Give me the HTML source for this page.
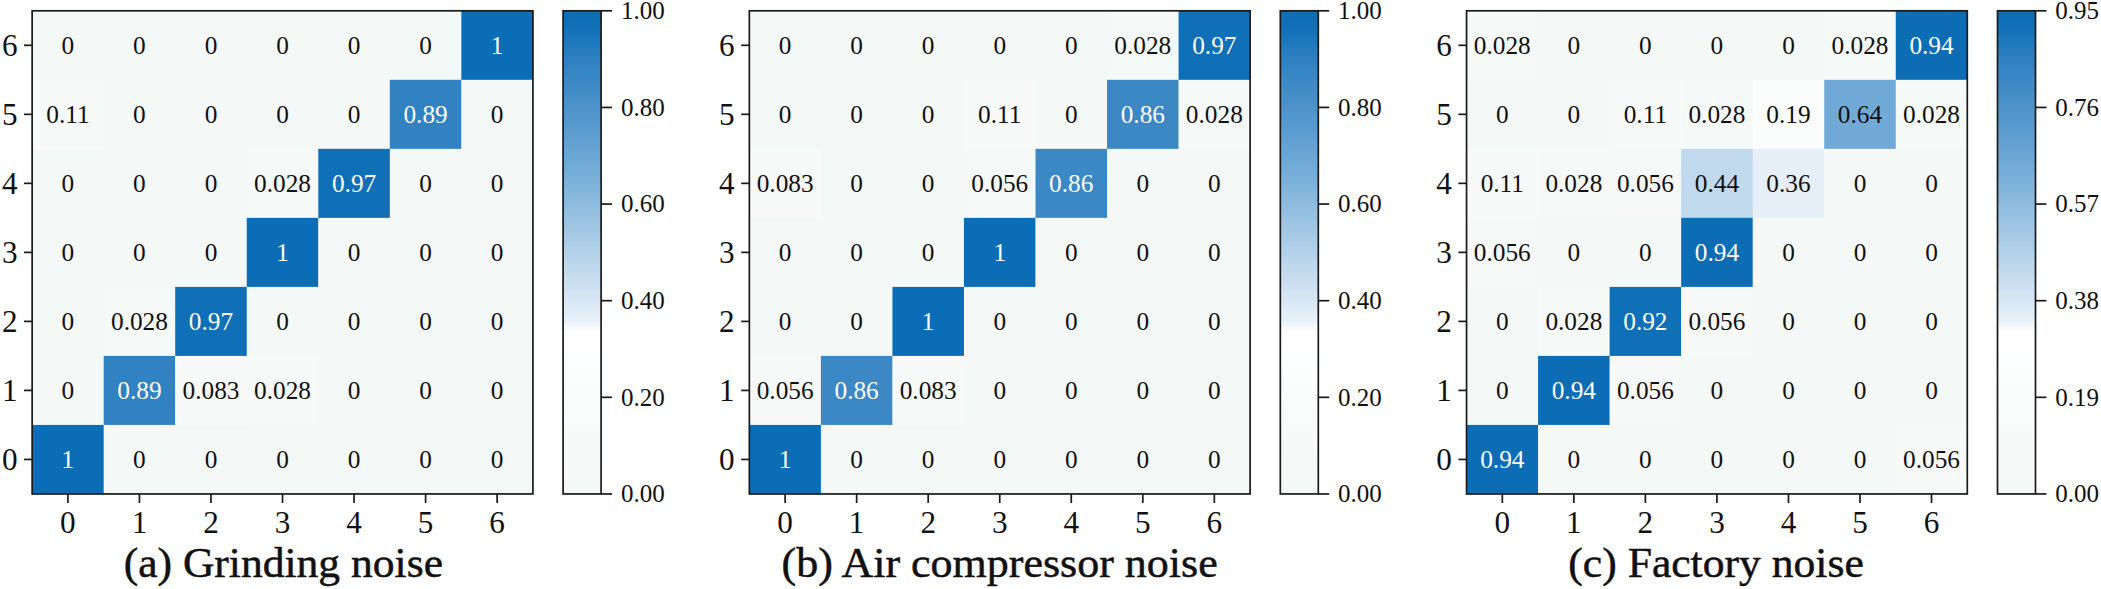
<!DOCTYPE html>
<html><head><meta charset="utf-8"><title>Confusion matrices</title>
<style>html,body{margin:0;padding:0;background:#fff}svg{display:block}text{font-family:"Liberation Serif","Times New Roman",serif;fill:#111}text.w{fill:#fff}text.t{stroke:#111;stroke-width:0.5px}</style></head><body>
<svg width="2101" height="589" viewBox="0 0 2101 589">
<rect width="2101" height="589" fill="#fff"/>
<defs><linearGradient id="cb" x1="0" y1="1" x2="0" y2="0">
<stop offset="0" stop-color="#f4f8f7"/>
<stop offset="0.333" stop-color="#ffffff"/>
<stop offset="0.36" stop-color="#e7f0f8"/>
<stop offset="0.4" stop-color="#d9e7f4"/>
<stop offset="0.674" stop-color="#72abd7"/>
<stop offset="0.89" stop-color="#3282c2"/>
<stop offset="0.97" stop-color="#0f6fb7"/>
<stop offset="1.0" stop-color="#0b6db5"/>
</linearGradient></defs>
<g>
<rect x="32.15" y="10.80" width="71.84" height="69.32" fill="#f4f8f7"/>
<rect x="103.69" y="10.80" width="71.84" height="69.32" fill="#f4f8f7"/>
<rect x="175.22" y="10.80" width="71.84" height="69.32" fill="#f4f8f7"/>
<rect x="246.76" y="10.80" width="71.84" height="69.32" fill="#f4f8f7"/>
<rect x="318.29" y="10.80" width="71.84" height="69.32" fill="#f4f8f7"/>
<rect x="389.83" y="10.80" width="71.84" height="69.32" fill="#f4f8f7"/>
<rect x="461.36" y="10.80" width="71.84" height="69.32" fill="#0b6db5"/>
<rect x="32.15" y="79.82" width="71.84" height="69.32" fill="#f8fafa"/>
<rect x="103.69" y="79.82" width="71.84" height="69.32" fill="#f4f8f7"/>
<rect x="175.22" y="79.82" width="71.84" height="69.32" fill="#f4f8f7"/>
<rect x="246.76" y="79.82" width="71.84" height="69.32" fill="#f4f8f7"/>
<rect x="318.29" y="79.82" width="71.84" height="69.32" fill="#f4f8f7"/>
<rect x="389.83" y="79.82" width="71.84" height="69.32" fill="#3282c2"/>
<rect x="461.36" y="79.82" width="71.84" height="69.32" fill="#f4f8f7"/>
<rect x="32.15" y="148.84" width="71.84" height="69.32" fill="#f4f8f7"/>
<rect x="103.69" y="148.84" width="71.84" height="69.32" fill="#f4f8f7"/>
<rect x="175.22" y="148.84" width="71.84" height="69.32" fill="#f4f8f7"/>
<rect x="246.76" y="148.84" width="71.84" height="69.32" fill="#f5f9f8"/>
<rect x="318.29" y="148.84" width="71.84" height="69.32" fill="#0f6fb7"/>
<rect x="389.83" y="148.84" width="71.84" height="69.32" fill="#f4f8f7"/>
<rect x="461.36" y="148.84" width="71.84" height="69.32" fill="#f4f8f7"/>
<rect x="32.15" y="217.86" width="71.84" height="69.32" fill="#f4f8f7"/>
<rect x="103.69" y="217.86" width="71.84" height="69.32" fill="#f4f8f7"/>
<rect x="175.22" y="217.86" width="71.84" height="69.32" fill="#f4f8f7"/>
<rect x="246.76" y="217.86" width="71.84" height="69.32" fill="#0b6db5"/>
<rect x="318.29" y="217.86" width="71.84" height="69.32" fill="#f4f8f7"/>
<rect x="389.83" y="217.86" width="71.84" height="69.32" fill="#f4f8f7"/>
<rect x="461.36" y="217.86" width="71.84" height="69.32" fill="#f4f8f7"/>
<rect x="32.15" y="286.89" width="71.84" height="69.32" fill="#f4f8f7"/>
<rect x="103.69" y="286.89" width="71.84" height="69.32" fill="#f5f9f8"/>
<rect x="175.22" y="286.89" width="71.84" height="69.32" fill="#0f6fb7"/>
<rect x="246.76" y="286.89" width="71.84" height="69.32" fill="#f4f8f7"/>
<rect x="318.29" y="286.89" width="71.84" height="69.32" fill="#f4f8f7"/>
<rect x="389.83" y="286.89" width="71.84" height="69.32" fill="#f4f8f7"/>
<rect x="461.36" y="286.89" width="71.84" height="69.32" fill="#f4f8f7"/>
<rect x="32.15" y="355.91" width="71.84" height="69.32" fill="#f4f8f7"/>
<rect x="103.69" y="355.91" width="71.84" height="69.32" fill="#3282c2"/>
<rect x="175.22" y="355.91" width="71.84" height="69.32" fill="#f7faf9"/>
<rect x="246.76" y="355.91" width="71.84" height="69.32" fill="#f5f9f8"/>
<rect x="318.29" y="355.91" width="71.84" height="69.32" fill="#f4f8f7"/>
<rect x="389.83" y="355.91" width="71.84" height="69.32" fill="#f4f8f7"/>
<rect x="461.36" y="355.91" width="71.84" height="69.32" fill="#f4f8f7"/>
<rect x="32.15" y="424.93" width="71.84" height="69.32" fill="#0b6db5"/>
<rect x="103.69" y="424.93" width="71.84" height="69.32" fill="#f4f8f7"/>
<rect x="175.22" y="424.93" width="71.84" height="69.32" fill="#f4f8f7"/>
<rect x="246.76" y="424.93" width="71.84" height="69.32" fill="#f4f8f7"/>
<rect x="318.29" y="424.93" width="71.84" height="69.32" fill="#f4f8f7"/>
<rect x="389.83" y="424.93" width="71.84" height="69.32" fill="#f4f8f7"/>
<rect x="461.36" y="424.93" width="71.84" height="69.32" fill="#f4f8f7"/>
<text x="67.92" y="53.79" font-size="25.3" text-anchor="middle">0</text>
<text x="139.45" y="53.79" font-size="25.3" text-anchor="middle">0</text>
<text x="210.99" y="53.79" font-size="25.3" text-anchor="middle">0</text>
<text x="282.53" y="53.79" font-size="25.3" text-anchor="middle">0</text>
<text x="354.06" y="53.79" font-size="25.3" text-anchor="middle">0</text>
<text x="425.60" y="53.79" font-size="25.3" text-anchor="middle">0</text>
<text x="497.13" y="53.79" font-size="25.3" text-anchor="middle" class="w">1</text>
<text x="67.92" y="122.81" font-size="25.3" text-anchor="middle">0.11</text>
<text x="139.45" y="122.81" font-size="25.3" text-anchor="middle">0</text>
<text x="210.99" y="122.81" font-size="25.3" text-anchor="middle">0</text>
<text x="282.53" y="122.81" font-size="25.3" text-anchor="middle">0</text>
<text x="354.06" y="122.81" font-size="25.3" text-anchor="middle">0</text>
<text x="425.60" y="122.81" font-size="25.3" text-anchor="middle" class="w">0.89</text>
<text x="497.13" y="122.81" font-size="25.3" text-anchor="middle">0</text>
<text x="67.92" y="191.83" font-size="25.3" text-anchor="middle">0</text>
<text x="139.45" y="191.83" font-size="25.3" text-anchor="middle">0</text>
<text x="210.99" y="191.83" font-size="25.3" text-anchor="middle">0</text>
<text x="282.53" y="191.83" font-size="25.3" text-anchor="middle">0.028</text>
<text x="354.06" y="191.83" font-size="25.3" text-anchor="middle" class="w">0.97</text>
<text x="425.60" y="191.83" font-size="25.3" text-anchor="middle">0</text>
<text x="497.13" y="191.83" font-size="25.3" text-anchor="middle">0</text>
<text x="67.92" y="260.85" font-size="25.3" text-anchor="middle">0</text>
<text x="139.45" y="260.85" font-size="25.3" text-anchor="middle">0</text>
<text x="210.99" y="260.85" font-size="25.3" text-anchor="middle">0</text>
<text x="282.53" y="260.85" font-size="25.3" text-anchor="middle" class="w">1</text>
<text x="354.06" y="260.85" font-size="25.3" text-anchor="middle">0</text>
<text x="425.60" y="260.85" font-size="25.3" text-anchor="middle">0</text>
<text x="497.13" y="260.85" font-size="25.3" text-anchor="middle">0</text>
<text x="67.92" y="329.87" font-size="25.3" text-anchor="middle">0</text>
<text x="139.45" y="329.87" font-size="25.3" text-anchor="middle">0.028</text>
<text x="210.99" y="329.87" font-size="25.3" text-anchor="middle" class="w">0.97</text>
<text x="282.53" y="329.87" font-size="25.3" text-anchor="middle">0</text>
<text x="354.06" y="329.87" font-size="25.3" text-anchor="middle">0</text>
<text x="425.60" y="329.87" font-size="25.3" text-anchor="middle">0</text>
<text x="497.13" y="329.87" font-size="25.3" text-anchor="middle">0</text>
<text x="67.92" y="398.89" font-size="25.3" text-anchor="middle">0</text>
<text x="139.45" y="398.89" font-size="25.3" text-anchor="middle" class="w">0.89</text>
<text x="210.99" y="398.89" font-size="25.3" text-anchor="middle">0.083</text>
<text x="282.53" y="398.89" font-size="25.3" text-anchor="middle">0.028</text>
<text x="354.06" y="398.89" font-size="25.3" text-anchor="middle">0</text>
<text x="425.60" y="398.89" font-size="25.3" text-anchor="middle">0</text>
<text x="497.13" y="398.89" font-size="25.3" text-anchor="middle">0</text>
<text x="67.92" y="467.91" font-size="25.3" text-anchor="middle" class="w">1</text>
<text x="139.45" y="467.91" font-size="25.3" text-anchor="middle">0</text>
<text x="210.99" y="467.91" font-size="25.3" text-anchor="middle">0</text>
<text x="282.53" y="467.91" font-size="25.3" text-anchor="middle">0</text>
<text x="354.06" y="467.91" font-size="25.3" text-anchor="middle">0</text>
<text x="425.60" y="467.91" font-size="25.3" text-anchor="middle">0</text>
<text x="497.13" y="467.91" font-size="25.3" text-anchor="middle">0</text>
<rect x="32.15" y="10.80" width="500.75" height="483.15" fill="none" stroke="#1a1a1a" stroke-width="1.7"/>
<line x1="67.92" y1="493.95" x2="67.92" y2="503.00" stroke="#1a1a1a" stroke-width="1.7"/>
<text x="67.92" y="532.60" font-size="31.2" text-anchor="middle">0</text>
<line x1="24.00" y1="459.44" x2="32.15" y2="459.44" stroke="#1a1a1a" stroke-width="1.7"/>
<text x="17.50" y="469.89" font-size="31.2" text-anchor="end">0</text>
<line x1="139.45" y1="493.95" x2="139.45" y2="503.00" stroke="#1a1a1a" stroke-width="1.7"/>
<text x="139.45" y="532.60" font-size="31.2" text-anchor="middle">1</text>
<line x1="24.00" y1="390.42" x2="32.15" y2="390.42" stroke="#1a1a1a" stroke-width="1.7"/>
<text x="17.50" y="400.87" font-size="31.2" text-anchor="end">1</text>
<line x1="210.99" y1="493.95" x2="210.99" y2="503.00" stroke="#1a1a1a" stroke-width="1.7"/>
<text x="210.99" y="532.60" font-size="31.2" text-anchor="middle">2</text>
<line x1="24.00" y1="321.40" x2="32.15" y2="321.40" stroke="#1a1a1a" stroke-width="1.7"/>
<text x="17.50" y="331.85" font-size="31.2" text-anchor="end">2</text>
<line x1="282.53" y1="493.95" x2="282.53" y2="503.00" stroke="#1a1a1a" stroke-width="1.7"/>
<text x="282.53" y="532.60" font-size="31.2" text-anchor="middle">3</text>
<line x1="24.00" y1="252.38" x2="32.15" y2="252.38" stroke="#1a1a1a" stroke-width="1.7"/>
<text x="17.50" y="262.83" font-size="31.2" text-anchor="end">3</text>
<line x1="354.06" y1="493.95" x2="354.06" y2="503.00" stroke="#1a1a1a" stroke-width="1.7"/>
<text x="354.06" y="532.60" font-size="31.2" text-anchor="middle">4</text>
<line x1="24.00" y1="183.35" x2="32.15" y2="183.35" stroke="#1a1a1a" stroke-width="1.7"/>
<text x="17.50" y="193.81" font-size="31.2" text-anchor="end">4</text>
<line x1="425.60" y1="493.95" x2="425.60" y2="503.00" stroke="#1a1a1a" stroke-width="1.7"/>
<text x="425.60" y="532.60" font-size="31.2" text-anchor="middle">5</text>
<line x1="24.00" y1="114.33" x2="32.15" y2="114.33" stroke="#1a1a1a" stroke-width="1.7"/>
<text x="17.50" y="124.78" font-size="31.2" text-anchor="end">5</text>
<line x1="497.13" y1="493.95" x2="497.13" y2="503.00" stroke="#1a1a1a" stroke-width="1.7"/>
<text x="497.13" y="532.60" font-size="31.2" text-anchor="middle">6</text>
<line x1="24.00" y1="45.31" x2="32.15" y2="45.31" stroke="#1a1a1a" stroke-width="1.7"/>
<text x="17.50" y="55.76" font-size="31.2" text-anchor="end">6</text>
<text transform="translate(283.30 577.2) scale(1.045 1)" x="0" y="0" font-size="41.7" text-anchor="middle" class="t">(a) Grinding noise</text>
<rect x="563.10" y="10.80" width="38.00" height="483.15" fill="url(#cb)" stroke="#1a1a1a" stroke-width="1.7"/>
<line x1="601.10" y1="493.95" x2="612.05" y2="493.95" stroke="#1a1a1a" stroke-width="1.7"/>
<text x="620.90" y="502.32" font-size="25.0">0.00</text>
<line x1="601.10" y1="397.32" x2="612.05" y2="397.32" stroke="#1a1a1a" stroke-width="1.7"/>
<text x="620.90" y="405.69" font-size="25.0">0.20</text>
<line x1="601.10" y1="300.69" x2="612.05" y2="300.69" stroke="#1a1a1a" stroke-width="1.7"/>
<text x="620.90" y="309.06" font-size="25.0">0.40</text>
<line x1="601.10" y1="204.06" x2="612.05" y2="204.06" stroke="#1a1a1a" stroke-width="1.7"/>
<text x="620.90" y="212.44" font-size="25.0">0.60</text>
<line x1="601.10" y1="107.43" x2="612.05" y2="107.43" stroke="#1a1a1a" stroke-width="1.7"/>
<text x="620.90" y="115.81" font-size="25.0">0.80</text>
<line x1="601.10" y1="10.80" x2="612.05" y2="10.80" stroke="#1a1a1a" stroke-width="1.7"/>
<text x="620.90" y="19.18" font-size="25.0">1.00</text>
</g>
<g>
<rect x="749.35" y="10.80" width="71.84" height="69.32" fill="#f4f8f7"/>
<rect x="820.89" y="10.80" width="71.84" height="69.32" fill="#f4f8f7"/>
<rect x="892.42" y="10.80" width="71.84" height="69.32" fill="#f4f8f7"/>
<rect x="963.96" y="10.80" width="71.84" height="69.32" fill="#f4f8f7"/>
<rect x="1035.49" y="10.80" width="71.84" height="69.32" fill="#f4f8f7"/>
<rect x="1107.03" y="10.80" width="71.84" height="69.32" fill="#f5f9f8"/>
<rect x="1178.56" y="10.80" width="71.84" height="69.32" fill="#0f6fb7"/>
<rect x="749.35" y="79.82" width="71.84" height="69.32" fill="#f4f8f7"/>
<rect x="820.89" y="79.82" width="71.84" height="69.32" fill="#f4f8f7"/>
<rect x="892.42" y="79.82" width="71.84" height="69.32" fill="#f4f8f7"/>
<rect x="963.96" y="79.82" width="71.84" height="69.32" fill="#f8fafa"/>
<rect x="1035.49" y="79.82" width="71.84" height="69.32" fill="#f4f8f7"/>
<rect x="1107.03" y="79.82" width="71.84" height="69.32" fill="#3b88c5"/>
<rect x="1178.56" y="79.82" width="71.84" height="69.32" fill="#f5f9f8"/>
<rect x="749.35" y="148.84" width="71.84" height="69.32" fill="#f7faf9"/>
<rect x="820.89" y="148.84" width="71.84" height="69.32" fill="#f4f8f7"/>
<rect x="892.42" y="148.84" width="71.84" height="69.32" fill="#f4f8f7"/>
<rect x="963.96" y="148.84" width="71.84" height="69.32" fill="#f6f9f8"/>
<rect x="1035.49" y="148.84" width="71.84" height="69.32" fill="#3b88c5"/>
<rect x="1107.03" y="148.84" width="71.84" height="69.32" fill="#f4f8f7"/>
<rect x="1178.56" y="148.84" width="71.84" height="69.32" fill="#f4f8f7"/>
<rect x="749.35" y="217.86" width="71.84" height="69.32" fill="#f4f8f7"/>
<rect x="820.89" y="217.86" width="71.84" height="69.32" fill="#f4f8f7"/>
<rect x="892.42" y="217.86" width="71.84" height="69.32" fill="#f4f8f7"/>
<rect x="963.96" y="217.86" width="71.84" height="69.32" fill="#0b6db5"/>
<rect x="1035.49" y="217.86" width="71.84" height="69.32" fill="#f4f8f7"/>
<rect x="1107.03" y="217.86" width="71.84" height="69.32" fill="#f4f8f7"/>
<rect x="1178.56" y="217.86" width="71.84" height="69.32" fill="#f4f8f7"/>
<rect x="749.35" y="286.89" width="71.84" height="69.32" fill="#f4f8f7"/>
<rect x="820.89" y="286.89" width="71.84" height="69.32" fill="#f4f8f7"/>
<rect x="892.42" y="286.89" width="71.84" height="69.32" fill="#0b6db5"/>
<rect x="963.96" y="286.89" width="71.84" height="69.32" fill="#f4f8f7"/>
<rect x="1035.49" y="286.89" width="71.84" height="69.32" fill="#f4f8f7"/>
<rect x="1107.03" y="286.89" width="71.84" height="69.32" fill="#f4f8f7"/>
<rect x="1178.56" y="286.89" width="71.84" height="69.32" fill="#f4f8f7"/>
<rect x="749.35" y="355.91" width="71.84" height="69.32" fill="#f6f9f8"/>
<rect x="820.89" y="355.91" width="71.84" height="69.32" fill="#3b88c5"/>
<rect x="892.42" y="355.91" width="71.84" height="69.32" fill="#f7faf9"/>
<rect x="963.96" y="355.91" width="71.84" height="69.32" fill="#f4f8f7"/>
<rect x="1035.49" y="355.91" width="71.84" height="69.32" fill="#f4f8f7"/>
<rect x="1107.03" y="355.91" width="71.84" height="69.32" fill="#f4f8f7"/>
<rect x="1178.56" y="355.91" width="71.84" height="69.32" fill="#f4f8f7"/>
<rect x="749.35" y="424.93" width="71.84" height="69.32" fill="#0b6db5"/>
<rect x="820.89" y="424.93" width="71.84" height="69.32" fill="#f4f8f7"/>
<rect x="892.42" y="424.93" width="71.84" height="69.32" fill="#f4f8f7"/>
<rect x="963.96" y="424.93" width="71.84" height="69.32" fill="#f4f8f7"/>
<rect x="1035.49" y="424.93" width="71.84" height="69.32" fill="#f4f8f7"/>
<rect x="1107.03" y="424.93" width="71.84" height="69.32" fill="#f4f8f7"/>
<rect x="1178.56" y="424.93" width="71.84" height="69.32" fill="#f4f8f7"/>
<text x="785.12" y="53.79" font-size="25.3" text-anchor="middle">0</text>
<text x="856.65" y="53.79" font-size="25.3" text-anchor="middle">0</text>
<text x="928.19" y="53.79" font-size="25.3" text-anchor="middle">0</text>
<text x="999.73" y="53.79" font-size="25.3" text-anchor="middle">0</text>
<text x="1071.26" y="53.79" font-size="25.3" text-anchor="middle">0</text>
<text x="1142.80" y="53.79" font-size="25.3" text-anchor="middle">0.028</text>
<text x="1214.33" y="53.79" font-size="25.3" text-anchor="middle" class="w">0.97</text>
<text x="785.12" y="122.81" font-size="25.3" text-anchor="middle">0</text>
<text x="856.65" y="122.81" font-size="25.3" text-anchor="middle">0</text>
<text x="928.19" y="122.81" font-size="25.3" text-anchor="middle">0</text>
<text x="999.73" y="122.81" font-size="25.3" text-anchor="middle">0.11</text>
<text x="1071.26" y="122.81" font-size="25.3" text-anchor="middle">0</text>
<text x="1142.80" y="122.81" font-size="25.3" text-anchor="middle" class="w">0.86</text>
<text x="1214.33" y="122.81" font-size="25.3" text-anchor="middle">0.028</text>
<text x="785.12" y="191.83" font-size="25.3" text-anchor="middle">0.083</text>
<text x="856.65" y="191.83" font-size="25.3" text-anchor="middle">0</text>
<text x="928.19" y="191.83" font-size="25.3" text-anchor="middle">0</text>
<text x="999.73" y="191.83" font-size="25.3" text-anchor="middle">0.056</text>
<text x="1071.26" y="191.83" font-size="25.3" text-anchor="middle" class="w">0.86</text>
<text x="1142.80" y="191.83" font-size="25.3" text-anchor="middle">0</text>
<text x="1214.33" y="191.83" font-size="25.3" text-anchor="middle">0</text>
<text x="785.12" y="260.85" font-size="25.3" text-anchor="middle">0</text>
<text x="856.65" y="260.85" font-size="25.3" text-anchor="middle">0</text>
<text x="928.19" y="260.85" font-size="25.3" text-anchor="middle">0</text>
<text x="999.73" y="260.85" font-size="25.3" text-anchor="middle" class="w">1</text>
<text x="1071.26" y="260.85" font-size="25.3" text-anchor="middle">0</text>
<text x="1142.80" y="260.85" font-size="25.3" text-anchor="middle">0</text>
<text x="1214.33" y="260.85" font-size="25.3" text-anchor="middle">0</text>
<text x="785.12" y="329.87" font-size="25.3" text-anchor="middle">0</text>
<text x="856.65" y="329.87" font-size="25.3" text-anchor="middle">0</text>
<text x="928.19" y="329.87" font-size="25.3" text-anchor="middle" class="w">1</text>
<text x="999.73" y="329.87" font-size="25.3" text-anchor="middle">0</text>
<text x="1071.26" y="329.87" font-size="25.3" text-anchor="middle">0</text>
<text x="1142.80" y="329.87" font-size="25.3" text-anchor="middle">0</text>
<text x="1214.33" y="329.87" font-size="25.3" text-anchor="middle">0</text>
<text x="785.12" y="398.89" font-size="25.3" text-anchor="middle">0.056</text>
<text x="856.65" y="398.89" font-size="25.3" text-anchor="middle" class="w">0.86</text>
<text x="928.19" y="398.89" font-size="25.3" text-anchor="middle">0.083</text>
<text x="999.73" y="398.89" font-size="25.3" text-anchor="middle">0</text>
<text x="1071.26" y="398.89" font-size="25.3" text-anchor="middle">0</text>
<text x="1142.80" y="398.89" font-size="25.3" text-anchor="middle">0</text>
<text x="1214.33" y="398.89" font-size="25.3" text-anchor="middle">0</text>
<text x="785.12" y="467.91" font-size="25.3" text-anchor="middle" class="w">1</text>
<text x="856.65" y="467.91" font-size="25.3" text-anchor="middle">0</text>
<text x="928.19" y="467.91" font-size="25.3" text-anchor="middle">0</text>
<text x="999.73" y="467.91" font-size="25.3" text-anchor="middle">0</text>
<text x="1071.26" y="467.91" font-size="25.3" text-anchor="middle">0</text>
<text x="1142.80" y="467.91" font-size="25.3" text-anchor="middle">0</text>
<text x="1214.33" y="467.91" font-size="25.3" text-anchor="middle">0</text>
<rect x="749.35" y="10.80" width="500.75" height="483.15" fill="none" stroke="#1a1a1a" stroke-width="1.7"/>
<line x1="785.12" y1="493.95" x2="785.12" y2="503.00" stroke="#1a1a1a" stroke-width="1.7"/>
<text x="785.12" y="532.60" font-size="31.2" text-anchor="middle">0</text>
<line x1="741.20" y1="459.44" x2="749.35" y2="459.44" stroke="#1a1a1a" stroke-width="1.7"/>
<text x="734.70" y="469.89" font-size="31.2" text-anchor="end">0</text>
<line x1="856.65" y1="493.95" x2="856.65" y2="503.00" stroke="#1a1a1a" stroke-width="1.7"/>
<text x="856.65" y="532.60" font-size="31.2" text-anchor="middle">1</text>
<line x1="741.20" y1="390.42" x2="749.35" y2="390.42" stroke="#1a1a1a" stroke-width="1.7"/>
<text x="734.70" y="400.87" font-size="31.2" text-anchor="end">1</text>
<line x1="928.19" y1="493.95" x2="928.19" y2="503.00" stroke="#1a1a1a" stroke-width="1.7"/>
<text x="928.19" y="532.60" font-size="31.2" text-anchor="middle">2</text>
<line x1="741.20" y1="321.40" x2="749.35" y2="321.40" stroke="#1a1a1a" stroke-width="1.7"/>
<text x="734.70" y="331.85" font-size="31.2" text-anchor="end">2</text>
<line x1="999.73" y1="493.95" x2="999.73" y2="503.00" stroke="#1a1a1a" stroke-width="1.7"/>
<text x="999.73" y="532.60" font-size="31.2" text-anchor="middle">3</text>
<line x1="741.20" y1="252.38" x2="749.35" y2="252.38" stroke="#1a1a1a" stroke-width="1.7"/>
<text x="734.70" y="262.83" font-size="31.2" text-anchor="end">3</text>
<line x1="1071.26" y1="493.95" x2="1071.26" y2="503.00" stroke="#1a1a1a" stroke-width="1.7"/>
<text x="1071.26" y="532.60" font-size="31.2" text-anchor="middle">4</text>
<line x1="741.20" y1="183.35" x2="749.35" y2="183.35" stroke="#1a1a1a" stroke-width="1.7"/>
<text x="734.70" y="193.81" font-size="31.2" text-anchor="end">4</text>
<line x1="1142.80" y1="493.95" x2="1142.80" y2="503.00" stroke="#1a1a1a" stroke-width="1.7"/>
<text x="1142.80" y="532.60" font-size="31.2" text-anchor="middle">5</text>
<line x1="741.20" y1="114.33" x2="749.35" y2="114.33" stroke="#1a1a1a" stroke-width="1.7"/>
<text x="734.70" y="124.78" font-size="31.2" text-anchor="end">5</text>
<line x1="1214.33" y1="493.95" x2="1214.33" y2="503.00" stroke="#1a1a1a" stroke-width="1.7"/>
<text x="1214.33" y="532.60" font-size="31.2" text-anchor="middle">6</text>
<line x1="741.20" y1="45.31" x2="749.35" y2="45.31" stroke="#1a1a1a" stroke-width="1.7"/>
<text x="734.70" y="55.76" font-size="31.2" text-anchor="end">6</text>
<text transform="translate(999.65 577.2) scale(1.055 1)" x="0" y="0" font-size="41.7" text-anchor="middle" class="t">(b) Air compressor noise</text>
<rect x="1280.30" y="10.80" width="38.00" height="483.15" fill="url(#cb)" stroke="#1a1a1a" stroke-width="1.7"/>
<line x1="1318.30" y1="493.95" x2="1329.25" y2="493.95" stroke="#1a1a1a" stroke-width="1.7"/>
<text x="1338.10" y="502.32" font-size="25.0">0.00</text>
<line x1="1318.30" y1="397.32" x2="1329.25" y2="397.32" stroke="#1a1a1a" stroke-width="1.7"/>
<text x="1338.10" y="405.69" font-size="25.0">0.20</text>
<line x1="1318.30" y1="300.69" x2="1329.25" y2="300.69" stroke="#1a1a1a" stroke-width="1.7"/>
<text x="1338.10" y="309.06" font-size="25.0">0.40</text>
<line x1="1318.30" y1="204.06" x2="1329.25" y2="204.06" stroke="#1a1a1a" stroke-width="1.7"/>
<text x="1338.10" y="212.44" font-size="25.0">0.60</text>
<line x1="1318.30" y1="107.43" x2="1329.25" y2="107.43" stroke="#1a1a1a" stroke-width="1.7"/>
<text x="1338.10" y="115.81" font-size="25.0">0.80</text>
<line x1="1318.30" y1="10.80" x2="1329.25" y2="10.80" stroke="#1a1a1a" stroke-width="1.7"/>
<text x="1338.10" y="19.18" font-size="25.0">1.00</text>
</g>
<g>
<rect x="1466.55" y="10.80" width="71.84" height="69.32" fill="#f5f9f8"/>
<rect x="1538.09" y="10.80" width="71.84" height="69.32" fill="#f4f8f7"/>
<rect x="1609.62" y="10.80" width="71.84" height="69.32" fill="#f4f8f7"/>
<rect x="1681.16" y="10.80" width="71.84" height="69.32" fill="#f4f8f7"/>
<rect x="1752.69" y="10.80" width="71.84" height="69.32" fill="#f4f8f7"/>
<rect x="1824.23" y="10.80" width="71.84" height="69.32" fill="#f5f9f8"/>
<rect x="1895.76" y="10.80" width="71.84" height="69.32" fill="#0c6db5"/>
<rect x="1466.55" y="79.82" width="71.84" height="69.32" fill="#f4f8f7"/>
<rect x="1538.09" y="79.82" width="71.84" height="69.32" fill="#f4f8f7"/>
<rect x="1609.62" y="79.82" width="71.84" height="69.32" fill="#f8fafa"/>
<rect x="1681.16" y="79.82" width="71.84" height="69.32" fill="#f5f9f8"/>
<rect x="1752.69" y="79.82" width="71.84" height="69.32" fill="#fbfcfc"/>
<rect x="1824.23" y="79.82" width="71.84" height="69.32" fill="#71aad7"/>
<rect x="1895.76" y="79.82" width="71.84" height="69.32" fill="#f5f9f8"/>
<rect x="1466.55" y="148.84" width="71.84" height="69.32" fill="#f8fafa"/>
<rect x="1538.09" y="148.84" width="71.84" height="69.32" fill="#f5f9f8"/>
<rect x="1609.62" y="148.84" width="71.84" height="69.32" fill="#f6f9f8"/>
<rect x="1681.16" y="148.84" width="71.84" height="69.32" fill="#c0d9ed"/>
<rect x="1752.69" y="148.84" width="71.84" height="69.32" fill="#e6eff7"/>
<rect x="1824.23" y="148.84" width="71.84" height="69.32" fill="#f4f8f7"/>
<rect x="1895.76" y="148.84" width="71.84" height="69.32" fill="#f4f8f7"/>
<rect x="1466.55" y="217.86" width="71.84" height="69.32" fill="#f6f9f8"/>
<rect x="1538.09" y="217.86" width="71.84" height="69.32" fill="#f4f8f7"/>
<rect x="1609.62" y="217.86" width="71.84" height="69.32" fill="#f4f8f7"/>
<rect x="1681.16" y="217.86" width="71.84" height="69.32" fill="#0c6db5"/>
<rect x="1752.69" y="217.86" width="71.84" height="69.32" fill="#f4f8f7"/>
<rect x="1824.23" y="217.86" width="71.84" height="69.32" fill="#f4f8f7"/>
<rect x="1895.76" y="217.86" width="71.84" height="69.32" fill="#f4f8f7"/>
<rect x="1466.55" y="286.89" width="71.84" height="69.32" fill="#f4f8f7"/>
<rect x="1538.09" y="286.89" width="71.84" height="69.32" fill="#f5f9f8"/>
<rect x="1609.62" y="286.89" width="71.84" height="69.32" fill="#0f6fb7"/>
<rect x="1681.16" y="286.89" width="71.84" height="69.32" fill="#f6f9f8"/>
<rect x="1752.69" y="286.89" width="71.84" height="69.32" fill="#f4f8f7"/>
<rect x="1824.23" y="286.89" width="71.84" height="69.32" fill="#f4f8f7"/>
<rect x="1895.76" y="286.89" width="71.84" height="69.32" fill="#f4f8f7"/>
<rect x="1466.55" y="355.91" width="71.84" height="69.32" fill="#f4f8f7"/>
<rect x="1538.09" y="355.91" width="71.84" height="69.32" fill="#0c6db5"/>
<rect x="1609.62" y="355.91" width="71.84" height="69.32" fill="#f6f9f8"/>
<rect x="1681.16" y="355.91" width="71.84" height="69.32" fill="#f4f8f7"/>
<rect x="1752.69" y="355.91" width="71.84" height="69.32" fill="#f4f8f7"/>
<rect x="1824.23" y="355.91" width="71.84" height="69.32" fill="#f4f8f7"/>
<rect x="1895.76" y="355.91" width="71.84" height="69.32" fill="#f4f8f7"/>
<rect x="1466.55" y="424.93" width="71.84" height="69.32" fill="#0c6db5"/>
<rect x="1538.09" y="424.93" width="71.84" height="69.32" fill="#f4f8f7"/>
<rect x="1609.62" y="424.93" width="71.84" height="69.32" fill="#f4f8f7"/>
<rect x="1681.16" y="424.93" width="71.84" height="69.32" fill="#f4f8f7"/>
<rect x="1752.69" y="424.93" width="71.84" height="69.32" fill="#f4f8f7"/>
<rect x="1824.23" y="424.93" width="71.84" height="69.32" fill="#f4f8f7"/>
<rect x="1895.76" y="424.93" width="71.84" height="69.32" fill="#f6f9f8"/>
<text x="1502.32" y="53.79" font-size="25.3" text-anchor="middle">0.028</text>
<text x="1573.85" y="53.79" font-size="25.3" text-anchor="middle">0</text>
<text x="1645.39" y="53.79" font-size="25.3" text-anchor="middle">0</text>
<text x="1716.93" y="53.79" font-size="25.3" text-anchor="middle">0</text>
<text x="1788.46" y="53.79" font-size="25.3" text-anchor="middle">0</text>
<text x="1860.00" y="53.79" font-size="25.3" text-anchor="middle">0.028</text>
<text x="1931.53" y="53.79" font-size="25.3" text-anchor="middle" class="w">0.94</text>
<text x="1502.32" y="122.81" font-size="25.3" text-anchor="middle">0</text>
<text x="1573.85" y="122.81" font-size="25.3" text-anchor="middle">0</text>
<text x="1645.39" y="122.81" font-size="25.3" text-anchor="middle">0.11</text>
<text x="1716.93" y="122.81" font-size="25.3" text-anchor="middle">0.028</text>
<text x="1788.46" y="122.81" font-size="25.3" text-anchor="middle">0.19</text>
<text x="1860.00" y="122.81" font-size="25.3" text-anchor="middle">0.64</text>
<text x="1931.53" y="122.81" font-size="25.3" text-anchor="middle">0.028</text>
<text x="1502.32" y="191.83" font-size="25.3" text-anchor="middle">0.11</text>
<text x="1573.85" y="191.83" font-size="25.3" text-anchor="middle">0.028</text>
<text x="1645.39" y="191.83" font-size="25.3" text-anchor="middle">0.056</text>
<text x="1716.93" y="191.83" font-size="25.3" text-anchor="middle">0.44</text>
<text x="1788.46" y="191.83" font-size="25.3" text-anchor="middle">0.36</text>
<text x="1860.00" y="191.83" font-size="25.3" text-anchor="middle">0</text>
<text x="1931.53" y="191.83" font-size="25.3" text-anchor="middle">0</text>
<text x="1502.32" y="260.85" font-size="25.3" text-anchor="middle">0.056</text>
<text x="1573.85" y="260.85" font-size="25.3" text-anchor="middle">0</text>
<text x="1645.39" y="260.85" font-size="25.3" text-anchor="middle">0</text>
<text x="1716.93" y="260.85" font-size="25.3" text-anchor="middle" class="w">0.94</text>
<text x="1788.46" y="260.85" font-size="25.3" text-anchor="middle">0</text>
<text x="1860.00" y="260.85" font-size="25.3" text-anchor="middle">0</text>
<text x="1931.53" y="260.85" font-size="25.3" text-anchor="middle">0</text>
<text x="1502.32" y="329.87" font-size="25.3" text-anchor="middle">0</text>
<text x="1573.85" y="329.87" font-size="25.3" text-anchor="middle">0.028</text>
<text x="1645.39" y="329.87" font-size="25.3" text-anchor="middle" class="w">0.92</text>
<text x="1716.93" y="329.87" font-size="25.3" text-anchor="middle">0.056</text>
<text x="1788.46" y="329.87" font-size="25.3" text-anchor="middle">0</text>
<text x="1860.00" y="329.87" font-size="25.3" text-anchor="middle">0</text>
<text x="1931.53" y="329.87" font-size="25.3" text-anchor="middle">0</text>
<text x="1502.32" y="398.89" font-size="25.3" text-anchor="middle">0</text>
<text x="1573.85" y="398.89" font-size="25.3" text-anchor="middle" class="w">0.94</text>
<text x="1645.39" y="398.89" font-size="25.3" text-anchor="middle">0.056</text>
<text x="1716.93" y="398.89" font-size="25.3" text-anchor="middle">0</text>
<text x="1788.46" y="398.89" font-size="25.3" text-anchor="middle">0</text>
<text x="1860.00" y="398.89" font-size="25.3" text-anchor="middle">0</text>
<text x="1931.53" y="398.89" font-size="25.3" text-anchor="middle">0</text>
<text x="1502.32" y="467.91" font-size="25.3" text-anchor="middle" class="w">0.94</text>
<text x="1573.85" y="467.91" font-size="25.3" text-anchor="middle">0</text>
<text x="1645.39" y="467.91" font-size="25.3" text-anchor="middle">0</text>
<text x="1716.93" y="467.91" font-size="25.3" text-anchor="middle">0</text>
<text x="1788.46" y="467.91" font-size="25.3" text-anchor="middle">0</text>
<text x="1860.00" y="467.91" font-size="25.3" text-anchor="middle">0</text>
<text x="1931.53" y="467.91" font-size="25.3" text-anchor="middle">0.056</text>
<rect x="1466.55" y="10.80" width="500.75" height="483.15" fill="none" stroke="#1a1a1a" stroke-width="1.7"/>
<line x1="1502.32" y1="493.95" x2="1502.32" y2="503.00" stroke="#1a1a1a" stroke-width="1.7"/>
<text x="1502.32" y="532.60" font-size="31.2" text-anchor="middle">0</text>
<line x1="1458.40" y1="459.44" x2="1466.55" y2="459.44" stroke="#1a1a1a" stroke-width="1.7"/>
<text x="1451.90" y="469.89" font-size="31.2" text-anchor="end">0</text>
<line x1="1573.85" y1="493.95" x2="1573.85" y2="503.00" stroke="#1a1a1a" stroke-width="1.7"/>
<text x="1573.85" y="532.60" font-size="31.2" text-anchor="middle">1</text>
<line x1="1458.40" y1="390.42" x2="1466.55" y2="390.42" stroke="#1a1a1a" stroke-width="1.7"/>
<text x="1451.90" y="400.87" font-size="31.2" text-anchor="end">1</text>
<line x1="1645.39" y1="493.95" x2="1645.39" y2="503.00" stroke="#1a1a1a" stroke-width="1.7"/>
<text x="1645.39" y="532.60" font-size="31.2" text-anchor="middle">2</text>
<line x1="1458.40" y1="321.40" x2="1466.55" y2="321.40" stroke="#1a1a1a" stroke-width="1.7"/>
<text x="1451.90" y="331.85" font-size="31.2" text-anchor="end">2</text>
<line x1="1716.93" y1="493.95" x2="1716.93" y2="503.00" stroke="#1a1a1a" stroke-width="1.7"/>
<text x="1716.93" y="532.60" font-size="31.2" text-anchor="middle">3</text>
<line x1="1458.40" y1="252.38" x2="1466.55" y2="252.38" stroke="#1a1a1a" stroke-width="1.7"/>
<text x="1451.90" y="262.83" font-size="31.2" text-anchor="end">3</text>
<line x1="1788.46" y1="493.95" x2="1788.46" y2="503.00" stroke="#1a1a1a" stroke-width="1.7"/>
<text x="1788.46" y="532.60" font-size="31.2" text-anchor="middle">4</text>
<line x1="1458.40" y1="183.35" x2="1466.55" y2="183.35" stroke="#1a1a1a" stroke-width="1.7"/>
<text x="1451.90" y="193.81" font-size="31.2" text-anchor="end">4</text>
<line x1="1860.00" y1="493.95" x2="1860.00" y2="503.00" stroke="#1a1a1a" stroke-width="1.7"/>
<text x="1860.00" y="532.60" font-size="31.2" text-anchor="middle">5</text>
<line x1="1458.40" y1="114.33" x2="1466.55" y2="114.33" stroke="#1a1a1a" stroke-width="1.7"/>
<text x="1451.90" y="124.78" font-size="31.2" text-anchor="end">5</text>
<line x1="1931.53" y1="493.95" x2="1931.53" y2="503.00" stroke="#1a1a1a" stroke-width="1.7"/>
<text x="1931.53" y="532.60" font-size="31.2" text-anchor="middle">6</text>
<line x1="1458.40" y1="45.31" x2="1466.55" y2="45.31" stroke="#1a1a1a" stroke-width="1.7"/>
<text x="1451.90" y="55.76" font-size="31.2" text-anchor="end">6</text>
<text transform="translate(1716.05 577.2) scale(1.046 1)" x="0" y="0" font-size="41.7" text-anchor="middle" class="t">(c) Factory noise</text>
<rect x="1997.50" y="10.80" width="38.00" height="483.15" fill="url(#cb)" stroke="#1a1a1a" stroke-width="1.7"/>
<line x1="2035.50" y1="493.95" x2="2046.45" y2="493.95" stroke="#1a1a1a" stroke-width="1.7"/>
<text x="2055.30" y="502.32" font-size="25.0">0.00</text>
<line x1="2035.50" y1="397.32" x2="2046.45" y2="397.32" stroke="#1a1a1a" stroke-width="1.7"/>
<text x="2055.30" y="405.69" font-size="25.0">0.19</text>
<line x1="2035.50" y1="300.69" x2="2046.45" y2="300.69" stroke="#1a1a1a" stroke-width="1.7"/>
<text x="2055.30" y="309.06" font-size="25.0">0.38</text>
<line x1="2035.50" y1="204.06" x2="2046.45" y2="204.06" stroke="#1a1a1a" stroke-width="1.7"/>
<text x="2055.30" y="212.44" font-size="25.0">0.57</text>
<line x1="2035.50" y1="107.43" x2="2046.45" y2="107.43" stroke="#1a1a1a" stroke-width="1.7"/>
<text x="2055.30" y="115.81" font-size="25.0">0.76</text>
<line x1="2035.50" y1="10.80" x2="2046.45" y2="10.80" stroke="#1a1a1a" stroke-width="1.7"/>
<text x="2055.30" y="19.18" font-size="25.0">0.95</text>
</g>
</svg></body></html>
